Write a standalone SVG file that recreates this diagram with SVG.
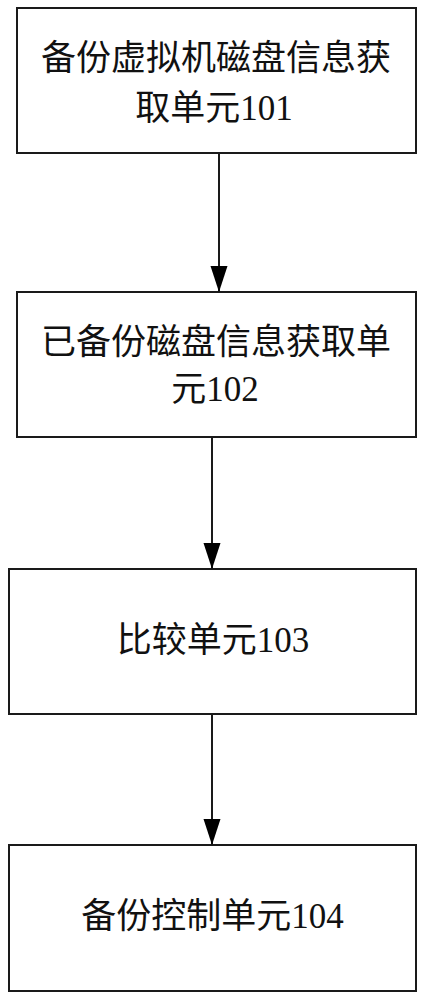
<svg xmlns="http://www.w3.org/2000/svg" width="426" height="1000" viewBox="0 0 426 1000">
<style>
.box{fill:#fff;stroke:#1a1a1a;stroke-width:2}
.lbl{font-family:"Liberation Serif","Noto Sans CJK SC",serif;font-size:35px;fill:#111;text-anchor:middle}
.con{stroke:#1a1a1a;stroke-width:2;fill:none}
</style>
<defs>
<marker id="ah" viewBox="0 0 17 26" refX="8.5" refY="26" markerWidth="17" markerHeight="26" markerUnits="userSpaceOnUse" orient="auto-start-reverse">
<path d="M0,0 L17,0 L8.5,26 Z" fill="#000"/>
</marker>
</defs>
<rect width="426" height="1000" fill="#fff"/>
<g id="n101">
<rect class="box" x="17" y="8" width="399" height="145"/>
<text class="lbl" x="216" y="70">备份虚拟机磁盘信息获</text>
<text class="lbl" x="214" y="120">取单元101</text>
</g>
<g id="n102">
<rect class="box" x="17" y="292" width="399" height="145"/>
<text class="lbl" x="216" y="354">已备份磁盘信息获取单</text>
<text class="lbl" x="215" y="401">元102</text>
</g>
<g id="n103">
<rect class="box" x="9" y="569" width="407" height="145"/>
<text class="lbl" x="213" y="652">比较单元103</text>
</g>
<g id="n104">
<rect class="box" x="9" y="845" width="407" height="146"/>
<text class="lbl" x="212.5" y="928">备份控制单元104</text>
</g>
<g id="connectors">
<line class="con" x1="219" y1="153" x2="219" y2="291" style="marker:none"/>
<path d="M210.5,266 L227.5,266 L219,292 Z" fill="#000"/>
<line class="con" x1="212" y1="437" x2="212" y2="568"/>
<path d="M203.5,543 L220.5,543 L212,569 Z" fill="#000"/>
<line class="con" x1="212" y1="714" x2="212" y2="844"/>
<path d="M203.5,819 L220.5,819 L212,845 Z" fill="#000"/>
</g>
</svg>
